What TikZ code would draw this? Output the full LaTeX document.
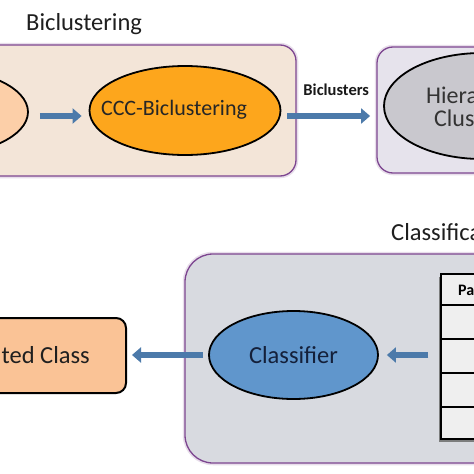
\documentclass[tikz,border=0pt]{standalone}
\usepackage{fontspec}
\setmainfont{Carlito}
\usepackage{tikz}
\usetikzlibrary{arrows.meta,shapes.geometric,shadows}
\definecolor{bcfill}{HTML}{F3E5D8}
\definecolor{hcfill}{HTML}{E6E3EC}
\definecolor{clfill}{HTML}{D8DAE0}
\definecolor{frame}{HTML}{7D4690}
\definecolor{inpfill}{HTML}{FCCFA8}
\definecolor{predfill}{HTML}{FAC396}
\definecolor{cccfill}{HTML}{FDA61C}
\definecolor{hierfill}{HTML}{C9C8CE}
\definecolor{clsfill}{HTML}{6096CC}
\definecolor{arrowc}{HTML}{4C7AAA}
\definecolor{tabfill}{HTML}{EFEFEF}
\tikzset{
  stage/.style={draw=frame, line width=1.3pt, rounded corners=#1,
                preaction={draw=frame!18, line width=4.5pt}},
  stagelabel/.style={font=\fontsize{24.5}{28}\selectfont, anchor=base west, inner sep=0pt, text=black!88},
  stepnode/.style={ellipse, draw=black, line width=1.8pt, inner sep=0pt, align=center,
                   minimum width=190pt, minimum height=88pt, font=\fontsize{24.5}{25}\selectfont},
  steptext/.style={font=\fontsize{24}{24}\selectfont, inner sep=0pt},
  outbox/.style={draw=black, line width=2pt, rounded corners=10pt, fill=predfill, inner sep=0pt,
                 minimum width=156pt, minimum height=75pt},
  tablebox/.style={draw=black, line width=1.4pt, fill=tabfill, inner sep=0pt,
                   minimum width=120pt, minimum height=165pt,
                   drop shadow={shadow xshift=-2pt, shadow yshift=-2.5pt, fill=black!55, opacity=0.9}},
  tabline/.style={draw=black, line width=1.4pt},
  flow/.style={-{Triangle[length=9pt,width=15pt]}, line width=6.5pt, draw=arrowc},
  edgelabel/.style={font=\fontsize{16.5}{16.5}\selectfont\bfseries, inner sep=0pt, text=black!90},
  cellhead/.style={font=\fontsize{16}{16}\selectfont\bfseries, inner sep=0pt, anchor=west},
}
\def\yA{116}
\begin{document}
\begin{tikzpicture}[x=1pt,y=-1pt]
  \useasboundingbox (0,0) rectangle (474,474);
  \clip (0,0) rectangle (474,474);
  \fill[white] (0,0) rectangle (474,474);
  \path[stage=16pt, fill=bcfill] (-30,45) rectangle (296,176);
  \path[stage=16pt, fill=hcfill] (377,47) rectangle (520,173);
  \path[stage=28pt, fill=clfill] (185,254) rectangle (520,463);
  \node[stagelabel] (bctitle) at (26,30) {Biclustering};
  \node[stagelabel] (cltitle) at (391,240) {Classifica};
  \node[stepnode, fill=inpfill] (inp) at (-67,112) {};
  \node[stepnode, fill=cccfill, minimum width=191pt, minimum height=89pt] (ccc) at (185,110.5) {};
  \node[steptext, font=\fontsize{22}{22}\selectfont, text=black!85] (ccctxt) at (174,110) {CCC-Biclustering};
  \node[stepnode, fill=hierfill, minimum width=196pt, minimum height=106pt] (hier) at (482,106) {};
  \node[steptext, anchor=west, text=black!80] (hiera) at (426,95) {Hiera};
  \node[steptext, anchor=west, text=black!80] (clust) at (434,118) {Clust};
  \node[stepnode, fill=clsfill, minimum width=169pt, minimum height=88pt, text={rgb,255:red,20;green,32;blue,58}] (clf) at (293.5,355) {Classifier};
  \node[outbox] (pred) at (48,355.5) {};
  \node[stagelabel, anchor=east, text=black!88] (predtxt) at (90,355) {ted Class};
  \node[tablebox] (tbl) at (501,356.5) {};
  \foreach \r in {305,339,373,407}
    \draw[tabline] (tbl.west |- 0,\r) -- (tbl.east |- 0,\r);
  \node[cellhead] (colhead) at (458,290) {Pa};
  \draw[flow, shorten <=11pt, shorten >=7pt] (inp.east |- 0,\yA) -- (ccc.west |- 0,\yA);
  \draw[flow, shorten <=6pt, shorten >=13pt] (ccc.east |- 0,\yA) -- node[edgelabel, above=17pt, xshift=4pt] {Biclusters} (hier.west |- 0,\yA);
  \draw[flow, shorten <=5pt, shorten >=5pt] (clf.west) -- (pred.east |- clf.west);
  \draw[flow, shorten <=12pt, shorten >=8pt] (tbl.west |- clf.east) -- (clf.east);
\end{tikzpicture}
\end{document}
